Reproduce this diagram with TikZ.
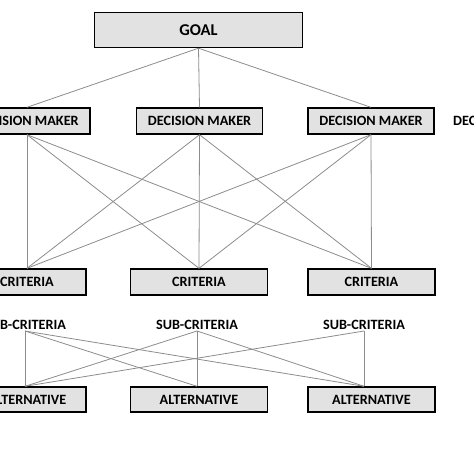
\documentclass[tikz,border=0pt]{standalone}
\usepackage{fontspec}
\setmainfont{Carlito}
\begin{document}
\begin{tikzpicture}[x=1pt,y=-1pt,
  box/.style={draw=black,line width=1.4pt,fill=boxgray,inner sep=0pt,font=\fontsize{14.2}{16}\selectfont\bfseries},
  lbl/.style={inner sep=0pt,font=\fontsize{14.2}{16}\selectfont\bfseries},
  link/.style={draw=linegray,line width=0.8pt}]
\definecolor{boxgray}{HTML}{E2E2E2}
\definecolor{linegray}{HTML}{8C8C8C}
\useasboundingbox (0,0) rectangle (474,474);
\clip (0,0) rectangle (474,474);
% goal
\node[box,minimum width=208pt,minimum height=35pt,font=\fontsize{16.5}{18}\selectfont\bfseries] (goal) at (198.5,30) {GOAL};
% decision makers
\node[box,minimum width=126pt,minimum height=26pt] (dm1) at (27,121) {DECISION MAKER};
\node[box,minimum width=126pt,minimum height=26pt] (dm2) at (199.5,121) {DECISION MAKER};
\node[box,minimum width=126pt,minimum height=26pt] (dm3) at (371,121) {DECISION MAKER};
\node[lbl,anchor=west] (dm4) at (453,121) {DECISION MAKER};
% criteria
\node[box,minimum width=118pt,minimum height=26pt] (c1) at (27,282) {CRITERIA};
\node[box,minimum width=137pt,minimum height=26pt] (c2) at (199,282) {CRITERIA};
\node[box,minimum width=127pt,minimum height=26pt] (c3) at (371.5,282) {CRITERIA};
% sub-criteria
\node[lbl,anchor=south,inner sep=1pt] (s1) at (25,331) {SUB-CRITERIA};
\node[lbl,anchor=south,inner sep=1pt] (s2) at (197,331) {SUB-CRITERIA};
\node[lbl,anchor=south,inner sep=1pt] (s3) at (364,331) {SUB-CRITERIA};
% alternatives
\node[box,minimum width=118pt,minimum height=25pt] (a1) at (27,399.5) {ALTERNATIVE};
\node[box,minimum width=137pt,minimum height=25pt] (a2) at (199,399.5) {ALTERNATIVE};
\node[box,minimum width=127pt,minimum height=25pt] (a3) at (371.5,399.5) {ALTERNATIVE};
% connectors
\begin{scope}[on background layer/.try]
\draw[link] (goal.south) -- (dm1.north);
\draw[link] (goal.south) -- (dm2.north);
\draw[link] (goal.south) -- (dm3.north);
\foreach \d in {dm1,dm2,dm3}{
  \foreach \c in {c1,c2,c3}{
    \draw[link] (\d.south) -- (\c.north);
  }
}
\draw[link] (s1.south) -- (a1.north -| s1.south);
\draw[link] (s1.south) -- (a2.north -| s2.south);
\draw[link] (s1.south) -- (a3.north -| s3.south);
\draw[link] (s2.south) -- (a1.north -| s1.south);
\draw[link] (s2.south) -- (a2.north -| s2.south);
\draw[link] (s2.south) -- (a3.north -| s3.south);
\draw[link] (s3.south) -- (a1.north -| s1.south);
\draw[link] (s3.south) -- (a3.north -| s3.south);
\end{scope}
\end{tikzpicture}
\end{document}
